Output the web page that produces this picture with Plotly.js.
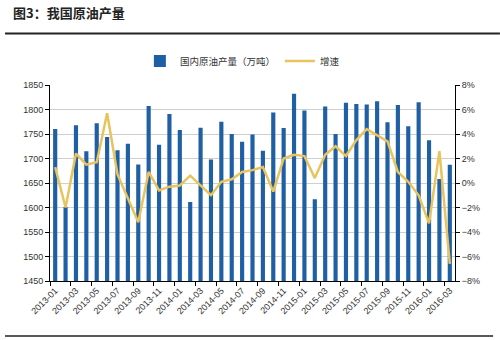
<!DOCTYPE html>
<html>
<head>
<meta charset="utf-8">
<script src="https://cdn.plot.ly/plotly-3.0.1.min.js"></script>
<style>
  html, body { margin: 0; padding: 0; background: #fff; }
  #chart { width: 500px; height: 340px; }
</style>
</head>
<body>
<div id="chart"></div>
<script>
// Monthly crude oil output (10k tonnes) and year-on-year growth (%)
const months = [
  '2013-01','2013-02','2013-03','2013-04','2013-05','2013-06','2013-07','2013-08','2013-09','2013-10','2013-11','2013-12',
  '2014-01','2014-02','2014-03','2014-04','2014-05','2014-06','2014-07','2014-08','2014-09','2014-10','2014-11','2014-12',
  '2015-01','2015-02','2015-03','2015-04','2015-05','2015-06','2015-07','2015-08','2015-09','2015-10','2015-11','2015-12',
  '2016-01','2016-02','2016-03'
];
const output = [
  1760, 1601, 1768, 1715, 1772, 1744, 1717, 1730, 1688, 1807, 1728, 1791,
  1758, 1611, 1763, 1698, 1775, 1750, 1734, 1749, 1716, 1794, 1762, 1832,
  1798, 1617, 1806, 1750, 1814, 1811, 1810, 1817, 1774, 1809, 1766, 1815,
  1737, 1658, 1687
];
const growth = [
  1.3, -2.0, 2.4, 1.5, 1.7, 5.7, 0.7, -1.2, -3.2, 0.9, -0.6, -0.3,
  -0.2, 0.6, -0.2, -1.0, 0.1, 0.3, 0.9, 1.05, 1.3, -0.7, 2.0, 2.3,
  2.2, 0.4, 2.3, 3.0, 2.2, 3.5, 4.4, 3.9, 3.4, 0.9, 0.1, -1.0,
  -3.3, 2.6, -6.6
];
const seriesNames = ['国内原油产量（万吨）', '增速'];
const chartTitle = '图3：我国原油产量';

const tickFont = { family: 'Liberation Sans, Arial, sans-serif', size: 9, color: '#333' };
const cjk = 'Noto Sans CJK SC, sans-serif';

const traces = [
  {
    type: 'bar', x: months, y: output, name: seriesNames[0],
    marker: { color: '#1f5fa3' }, yaxis: 'y'
  },
  {
    type: 'scatter', mode: 'lines', x: months, y: growth, name: seriesNames[1],
    line: { color: '#e8c45e', width: 2.5 }, yaxis: 'y2'
  }
];

const layout = {
  width: 500, height: 340,
  margin: { l: 50, r: 45, t: 85, b: 59 },
  paper_bgcolor: '#fff', plot_bgcolor: '#fff',
  bargap: 0.6,
  showlegend: true,
  title: {
    text: '<b>' + chartTitle + '</b>',
    font: { family: cjk, size: 13, color: '#222' },
    xref: 'container', yref: 'container',
    x: 0.026, xanchor: 'left', y: 0.959, yanchor: 'middle'
  },
  legend: {
    orientation: 'h', x: 0.475, xanchor: 'center', y: 1.122, yanchor: 'middle',
    font: { family: cjk, size: 9.5, color: '#333' },
    itemwidth: 30, tracegroupgap: 0
  },
  xaxis: {
    type: 'category',
    tickmode: 'linear', tick0: 0, dtick: 2,
    tickson: 'boundaries',
    tickangle: -45,
    ticks: 'outside', ticklen: 4, tickcolor: '#000',
    showline: true, linecolor: '#000', linewidth: 1,
    showgrid: false,
    tickfont: tickFont,
    range: [-0.5, months.length - 0.5]
  },
  yaxis: {
    range: [1450, 1850], dtick: 50, tick0: 1450,
    ticks: 'outside', ticklen: 4, tickcolor: '#000',
    showline: true, linecolor: '#000', linewidth: 1,
    showgrid: true, gridcolor: '#cfcfcf', gridwidth: 1,
    zeroline: false,
    tickfont: tickFont
  },
  yaxis2: {
    overlaying: 'y', side: 'right',
    range: [-8, 8], dtick: 2, tick0: -8,
    ticksuffix: '%',
    ticks: 'outside', ticklen: 4, tickcolor: '#000',
    showline: true, linecolor: '#000', linewidth: 1,
    showgrid: false, zeroline: false,
    tickfont: tickFont
  },
  shapes: [
    { type: 'line', xref: 'paper', yref: 'paper', x0: -0.111, x1: 1.111, y0: 1.263, y1: 1.263,
      line: { color: '#222', width: 2 } },
    { type: 'line', xref: 'paper', yref: 'paper', x0: -0.111, x1: 1.094, y0: -0.281, y1: -0.281,
      line: { color: '#222', width: 1.5 } }
  ]
};

Plotly.newPlot('chart', traces, layout, { displayModeBar: false, staticPlot: true });
</script>
</body>
</html>
